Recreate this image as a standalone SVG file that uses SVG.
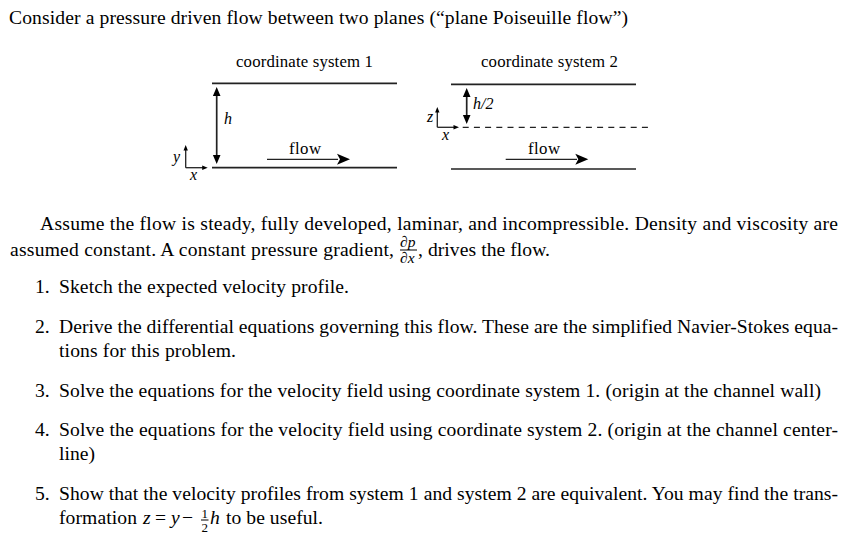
<svg xmlns="http://www.w3.org/2000/svg" width="853" height="544" viewBox="0 0 853 544">
<style>
text{font-family:"Liberation Serif","Times New Roman",serif;fill:#000;white-space:pre}
.b{font-size:19.6px}
.d{font-size:16.8px}
.i{font-style:italic}
.s{font-size:16px}
.l{stroke:#222;stroke-width:1.7;fill:none}
.t{stroke:#222;stroke-width:1.3;fill:none}
.a{fill:#000;stroke:none}
</style>
<rect width="853" height="544" fill="#fff"/>
<g id="body-text">
<text class="b" x="9" y="24" textLength="619">Consider a pressure driven flow between two planes (“plane Poiseuille flow”)</text>
<text class="b" x="40" y="230" textLength="798">Assume the flow is steady, fully developed, laminar, and incompressible. Density and viscosity are</text>
<text class="b" x="10" y="256" textLength="384">assumed constant. A constant pressure gradient,</text>
<text class="i" font-size="15.500" x="400" y="247">∂p</text>
<line x1="400" y1="250" x2="417" y2="250" stroke="#000" stroke-width="1"/>
<text class="i" font-size="15.500" x="400" y="263">∂x</text>
<text class="b" x="418" y="256" textLength="132">, drives the flow.</text>
<text class="b" x="35" y="293">1.</text>
<text class="b" x="59" y="293" textLength="290">Sketch the expected velocity profile.</text>
<text class="b" x="35" y="333">2.</text>
<text class="b" x="59" y="333" textLength="779">Derive the differential equations governing this flow. These are the simplified Navier-Stokes equa-</text>
<text class="b" x="59" y="357" textLength="177">tions for this problem.</text>
<text class="b" x="35" y="397">3.</text>
<text class="b" x="59" y="397" textLength="762">Solve the equations for the velocity field using coordinate system 1. (origin at the channel wall)</text>
<text class="b" x="35" y="436">4.</text>
<text class="b" x="59" y="436" textLength="779">Solve the equations for the velocity field using coordinate system 2. (origin at the channel center-</text>
<text class="b" x="59" y="460" textLength="36">line)</text>
<text class="b" x="35" y="500">5.</text>
<text class="b" x="59" y="500" textLength="779">Show that the velocity profiles from system 1 and system 2 are equivalent. You may find the trans-</text>
<text class="b" x="59" y="524" textLength="78">formation</text>
<text class="b i" x="143" y="524">z</text>
<text class="b" x="155" y="524">=</text>
<text class="b i" x="171" y="524">y</text>
<text class="b" x="182" y="524">−</text>
<text font-size="13" x="201.500" y="518">1</text>
<line x1="201" y1="520" x2="208.500" y2="520" stroke="#000" stroke-width="1"/>
<text font-size="13" x="201.500" y="532">2</text>
<text class="b i" x="210" y="524">h</text>
<text class="b" x="226" y="524" textLength="97">to be useful.</text>
</g>
<g id="system-1">
<text class="d" x="236" y="67" textLength="137">coordinate system 1</text>
<line class="l" x1="212" y1="83.300" x2="397" y2="83.300"/>
<line class="l" x1="212" y1="167.700" x2="397" y2="167.700"/>
<line class="l" x1="216.700" y1="92" x2="216.700" y2="158"/>
<path class="a" d="M216.700 87l-3.800 9h7.600zM216.700 164l-3.800-9h7.600z"/>
<text class="i s" x="224" y="124">h</text>
<text class="d" x="289" y="153.500" textLength="32">flow</text>
<line class="t" x1="267" y1="159.300" x2="338" y2="159.300"/>
<path class="a" d="M350 159.300l-13-5.500 3 5.500-3 5.500z"/>
<line class="t" x1="185.700" y1="148" x2="185.700" y2="167.700"/>
<line class="t" x1="185.700" y1="167.700" x2="205" y2="167.700"/>
<path class="a" d="M185.700 145l-2.200 5.500h4.400zM207.700 167.700l-5.500-2.200v4.400z"/>
<text class="i s" x="173" y="162">y</text>
<text class="i s" x="190" y="180">x</text>
</g>
<g id="system-2">
<text class="d" x="481" y="67" textLength="137">coordinate system 2</text>
<line class="l" x1="451" y1="84.300" x2="636" y2="84.300"/>
<line class="l" x1="451" y1="169" x2="636" y2="169"/>
<line class="l" x1="466.700" y1="93" x2="466.700" y2="119"/>
<path class="a" d="M466.700 88l-3.800 9h7.600zM466.700 124l-3.800-9h7.600z"/>
<text class="i s" x="473" y="109">h/2</text>
<text class="d" x="528" y="153.500" textLength="32">flow</text>
<line class="t" x1="505.700" y1="159.300" x2="577" y2="159.300"/>
<path class="a" d="M588.300 159.300l-13-5.500 3 5.500-3 5.500z"/>
<line class="t" x1="437.300" y1="110" x2="437.300" y2="127.300"/>
<line class="t" x1="437.300" y1="127.300" x2="456" y2="127.300"/>
<path class="a" d="M437.300 107l-2.200 5.500h4.400zM459 127.300l-5.500-2.200v4.400z"/>
<text class="i s" x="427" y="122">z</text>
<text class="i s" x="442" y="140">x</text>
<line class="t" x1="462.700" y1="127.300" x2="649" y2="127.300" stroke-dasharray="6 5.200" stroke-width="1.500"/>
</g>
</svg>
